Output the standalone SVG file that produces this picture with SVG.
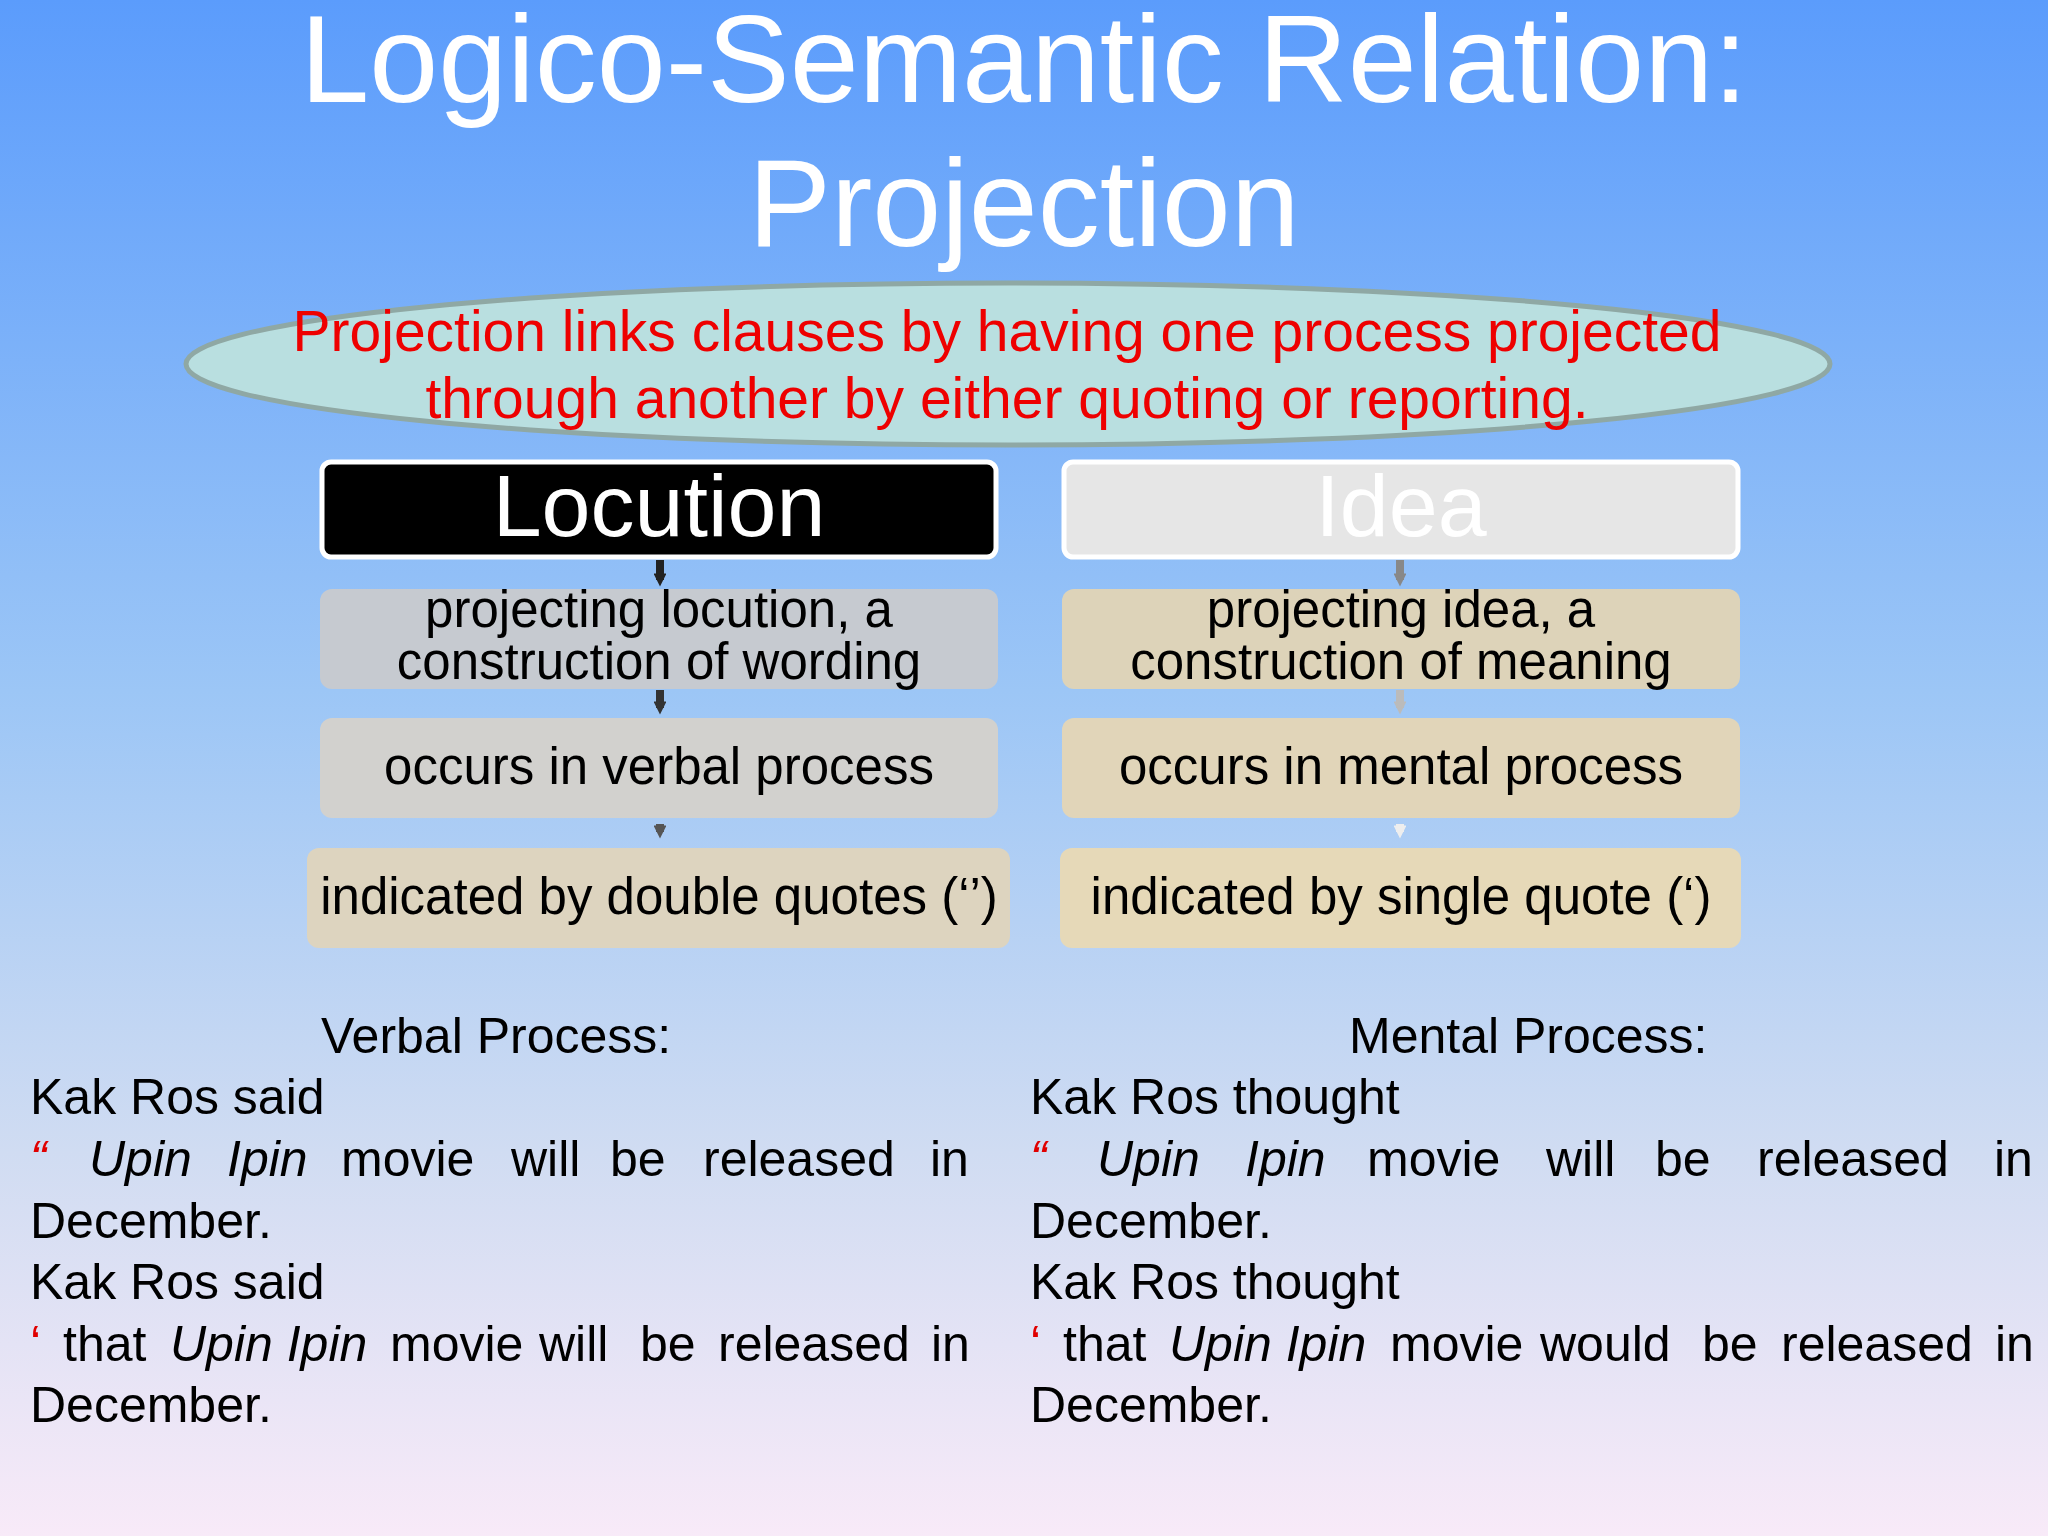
<svg xmlns="http://www.w3.org/2000/svg" width="2048" height="1536" viewBox="0 0 2048 1536">
<defs>
<linearGradient id="bg" x1="0" y1="0" x2="0" y2="1">
<stop offset="0" stop-color="#5b9cfc"/>
<stop offset="0.45" stop-color="#9cc6f6"/>
<stop offset="0.75" stop-color="#d0dcf2"/>
<stop offset="1" stop-color="#f8eaf8"/>
</linearGradient>
<marker id="ah" viewBox="0 0 10 10" refX="5" refY="5" markerWidth="2.2" markerHeight="1.6" orient="auto" markerUnits="strokeWidth"><path d="M0,0 L10,5 L0,10 z" fill="context-stroke"/></marker>
</defs>
<style>
text{font-family:"Liberation Sans",Arial,sans-serif}
.t{font-size:50px;fill:#000}
.b{font-size:51px;fill:#000;text-anchor:middle}
.i{font-style:italic}
.r{fill:#e00000}
.c{stroke-width:8;fill:none}
</style>
<rect width="2048" height="1536" fill="url(#bg)"/>
<g id="title">
<text x="1024" y="102" style="font-size:124px;fill:#fff;text-anchor:middle">Logico-Semantic Relation:</text>
<text x="1024" y="246" style="font-size:124px;fill:#fff;text-anchor:middle">Projection</text>
</g>
<g id="definition">
<ellipse cx="1008" cy="364" rx="822" ry="81" fill="#b9dfe0" stroke="#8fa8a4" stroke-width="5"/>
<text x="1007" y="351" style="font-size:57px;fill:#ee0000;text-anchor:middle">Projection links clauses by having one process projected</text>
<text x="1007" y="418" style="font-size:57px;fill:#ee0000;text-anchor:middle">through another by either quoting or reporting.</text>
</g>
<g id="connectors">
<line class="c" x1="660" y1="560" x2="660" y2="580" stroke="#222" marker-end="url(#ah)"/>
<line class="c" x1="660" y1="690" x2="660" y2="708" stroke="#333" marker-end="url(#ah)"/>
<line class="c" x1="660" y1="824" x2="660" y2="832" stroke="#555" marker-end="url(#ah)"/>
<line class="c" x1="1400" y1="560" x2="1400" y2="580" stroke="#888" marker-end="url(#ah)"/>
<line class="c" x1="1400" y1="690" x2="1400" y2="708" stroke="#bbb" marker-end="url(#ah)"/>
<line class="c" x1="1400" y1="824" x2="1400" y2="832" stroke="#eee" marker-end="url(#ah)"/>
</g>
<g id="locution">
<rect x="322" y="462" width="674" height="95" rx="9" fill="#000" stroke="#fff" stroke-width="5"/>
<text x="659" y="536" style="font-size:88px;fill:#fff;text-anchor:middle">Locution</text>
</g>
<g id="idea">
<rect x="1064" y="462" width="674" height="95" rx="9" fill="#e6e6e6" stroke="#fff" stroke-width="5"/>
<text x="1401" y="536" style="font-size:88px;fill:#fff;text-anchor:middle">Idea</text>
</g>
<g id="loc-wording">
<rect x="320" y="589" width="678" height="100" rx="12" fill="#c6cad0"/>
<text class="b" x="659" y="627">projecting locution, a</text>
<text class="b" x="659" y="679">construction of wording</text>
</g>
<g id="loc-verbal">
<rect x="320" y="718" width="678" height="100" rx="12" fill="#d2d1ce"/>
<text class="b" x="659" y="784">occurs in verbal process</text>
</g>
<g id="loc-quotes">
<rect x="307" y="848" width="703" height="100" rx="12" fill="#ddd4bf"/>
<text class="b" x="659" y="914">indicated by double quotes (‘’)</text>
</g>
<g id="idea-meaning">
<rect x="1062" y="589" width="678" height="100" rx="12" fill="#ddd3b9"/>
<text class="b" x="1401" y="627">projecting idea, a</text>
<text class="b" x="1401" y="679">construction of meaning</text>
</g>
<g id="idea-mental">
<rect x="1062" y="718" width="678" height="100" rx="12" fill="#e1d5b9"/>
<text class="b" x="1401" y="784">occurs in mental process</text>
</g>
<g id="idea-quote">
<rect x="1060" y="848" width="681" height="100" rx="12" fill="#e6d9b8"/>
<text class="b" x="1401" y="914">indicated by single quote (‘)</text>
</g>
<g id="examples-verbal">
<text class="t" x="321" y="1053">Verbal Process:</text>
<text class="t" x="30" y="1114">Kak Ros said</text>
<text class="t" y="1176"><tspan class="i r" x="30">“</tspan><tspan class="i" x="89">Upin</tspan><tspan class="i" x="227">Ipin</tspan><tspan x="341">movie</tspan><tspan x="511">will</tspan><tspan x="610">be</tspan><tspan x="703">released</tspan><tspan x="930">in</tspan></text>
<text class="t" x="30" y="1238">December.</text>
<text class="t" x="30" y="1299">Kak Ros said</text>
<text class="t" y="1361"><tspan class="r" x="30">‘</tspan><tspan x="63">that</tspan><tspan class="i" x="170">Upin Ipin</tspan><tspan x="390">movie</tspan><tspan x="539">will</tspan><tspan x="640">be</tspan><tspan x="718">released</tspan><tspan x="931">in</tspan></text>
<text class="t" x="30" y="1422">December.</text>
</g>
<g id="examples-mental">
<text class="t" x="1349" y="1053">Mental Process:</text>
<text class="t" x="1030" y="1114">Kak Ros thought</text>
<text class="t" y="1176"><tspan class="i r" x="1030">“</tspan><tspan class="i" x="1097">Upin</tspan><tspan class="i" x="1245">Ipin</tspan><tspan x="1367">movie</tspan><tspan x="1546">will</tspan><tspan x="1655">be</tspan><tspan x="1757">released</tspan><tspan x="1994">in</tspan></text>
<text class="t" x="1030" y="1238">December.</text>
<text class="t" x="1030" y="1299">Kak Ros thought</text>
<text class="t" y="1361"><tspan class="r" x="1030">‘</tspan><tspan x="1063">that</tspan><tspan class="i" x="1169">Upin Ipin</tspan><tspan x="1390">movie</tspan><tspan x="1540">would</tspan><tspan x="1702">be</tspan><tspan x="1781">released</tspan><tspan x="1995">in</tspan></text>
<text class="t" x="1030" y="1422">December.</text>
</g>
</svg>
